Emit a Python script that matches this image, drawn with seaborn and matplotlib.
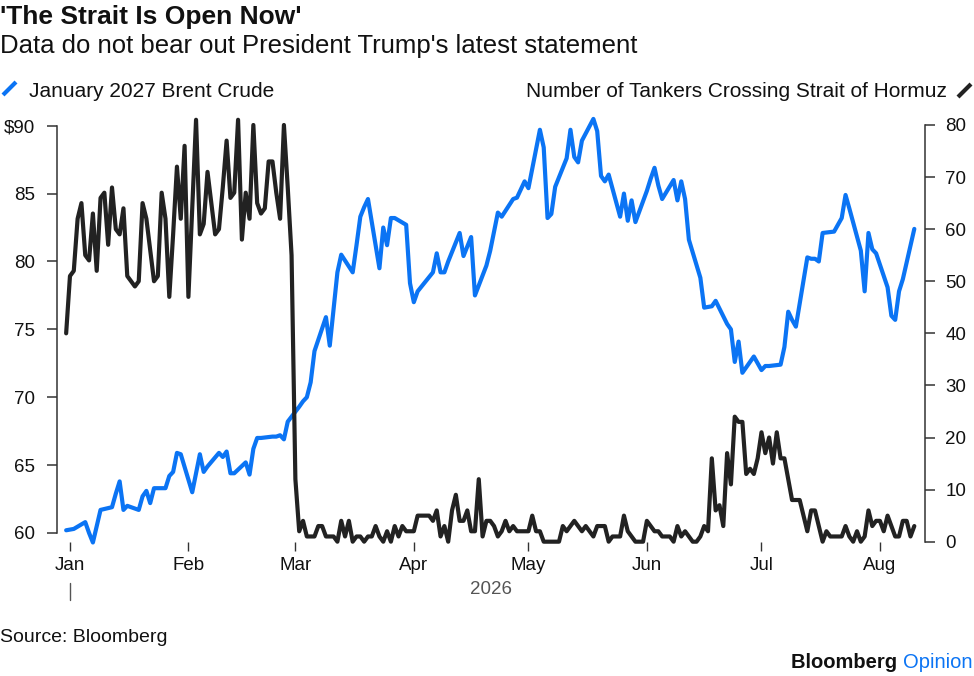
import matplotlib
matplotlib.use('Agg')
import matplotlib.pyplot as plt
import matplotlib.dates as mdates
import matplotlib.transforms as mtransforms
from matplotlib.lines import Line2D
import seaborn as sns
import pandas as pd

# January 2027 Brent crude, $/bbl, one value per trading day (grouped by month)
brent_dec = [60.2]
brent_jan = [60.3, 60.8, 60.0, 59.3, 60.5, 61.7, 61.9, 62.9, 63.8, 61.7, 62.0,
             61.7, 62.7, 63.1, 62.2, 63.3, 63.3, 64.2, 64.5, 65.9, 65.8]
brent_feb = [63.0, 64.4, 65.8, 64.5, 64.9, 65.9, 65.6, 66.0, 64.4, 64.4,
             65.2, 64.3, 66.2, 67.0, 67.0, 67.1, 67.1, 67.2, 66.9, 68.2]
brent_mar = [69.3, 69.7, 70.0, 71.1, 73.4, 75.9, 73.8, 76.5, 79.2, 80.5, 79.2,
             81.2, 83.3, 84.0, 84.6, 79.5, 82.5, 81.2, 83.2, 83.2, 82.7, 78.4]
brent_apr = [77.0, 77.8, 79.2, 80.6, 79.2, 79.2, 80.0, 82.1, 80.4, 81.1, 81.8,
             77.5, 79.7, 80.8, 82.2, 83.6, 83.3, 84.6, 84.7, 85.3, 85.9]
brent_may = [85.4, 89.7, 88.4, 83.2, 83.5, 85.5, 87.6, 89.7, 87.7, 87.3, 88.9,
             90.5, 89.6, 86.3, 85.9, 86.4, 83.3, 85.0, 83.0, 84.5, 82.9]
brent_jun = [85.2, 86.1, 86.9, 85.6, 84.6, 86.0, 84.5, 85.9, 84.6, 81.6, 78.8,
             76.6, 76.65, 76.7, 77.1, 75.4, 75.0, 72.6, 74.1, 71.8, 73.0, 72.5]
brent_jul = [72.0, 72.3, 72.3, 72.4, 73.7, 76.3, 75.7, 75.2, 80.3, 80.2, 80.2, 80.0,
             82.1, 82.2, 82.7, 83.2, 84.9, 83.9, 80.8, 77.8, 82.1, 80.9, 80.6]
brent_aug = [78.1, 76.0, 75.7, 77.8, 78.7, 82.4]

# number of tankers crossing the Strait of Hormuz, daily
tankers_dec = [40]
tankers_jan = [51, 52, 62, 65, 55, 54, 63, 52, 66, 67, 57, 68, 60, 59, 64, 51,
               50, 49, 50, 65, 62, 56, 50, 51, 67, 62, 47, 59, 72, 62, 76]
tankers_feb = [47, 64, 81, 59, 61, 71, 65, 59, 60, 68, 77, 66, 67, 81,
               58, 67, 62, 80, 65, 63, 64, 73, 73, 67, 62, 80, 68, 55]
tankers_mar = [12, 2, 4, 1, 1, 1, 3, 3, 1, 1, 1, 0, 4, 1, 4, 0,
               1, 1, 0, 1, 1, 3, 1, 0, 2, 0, 3, 1, 3, 2, 2]
tankers_apr = [2, 5, 5, 5, 5, 4, 6, 1, 3, 0, 6, 9, 4, 4, 6,
               2, 2, 12, 1, 4, 4, 3, 1, 2, 4, 2, 3, 2, 2, 2]
tankers_may = [2, 5, 2, 2, 0, 0, 0, 0, 0, 3, 2, 3, 4, 3, 2, 3,
               2, 1, 3, 3, 3, 0, 1, 1, 1, 5, 2, 1, 0, 0, 0]
tankers_jun = [4, 3, 2, 2, 1, 1, 1, 0, 3, 1, 2, 1, 0, 0, 1,
               3, 2, 16, 6, 7, 3, 17, 11, 24, 23, 23, 13, 14, 13, 16]
tankers_jul = [21, 17, 20, 15, 21, 16, 16, 12, 8, 8, 8, 5, 2, 6, 6, 3,
               0, 2, 1, 1, 1, 1, 3, 1, 0, 2, 0, 1, 6, 3, 4]
tankers_aug = [4, 2, 5, 3, 1, 1, 4, 4, 1, 3]

left_ticks = [60, 65, 70, 75, 80, 85, 90]
left_labels = ['60', '65', '70', '75', '80', '85', '$90']
right_ticks = [0, 10, 20, 30, 40, 50, 60, 70, 80]

BLUE = '#0b74f4'
DARK = '#222222'

brent = pd.DataFrame({
    'date': pd.bdate_range('2025-12-31', '2026-08-10', freq='C',
                           holidays=['2026-01-01', '2026-04-03']),
    'price': brent_dec + brent_jan + brent_feb + brent_mar + brent_apr
             + brent_may + brent_jun + brent_jul + brent_aug,
})
tankers = pd.DataFrame({
    'date': pd.date_range('2025-12-31', '2026-08-10', freq='D'),
    'count': tankers_dec + tankers_jan + tankers_feb + tankers_mar + tankers_apr
             + tankers_may + tankers_jun + tankers_jul + tankers_aug,
})

sns.set_theme(style='white')
plt.rcParams['font.family'] = ['Liberation Sans', 'DejaVu Sans']

fig = plt.figure(figsize=(9.74, 6.76), dpi=100)
ax = fig.add_axes([0.0585, 0.1987, 0.8912, 0.6312])
ax2 = ax.twinx()

sns.lineplot(data=brent, x='date', y='price', ax=ax, color=BLUE, lw=3.0, clip_on=False)
sns.lineplot(data=tankers, x='date', y='count', ax=ax2, color=DARK, lw=3.0, clip_on=False)

jan1 = mdates.date2num(pd.Timestamp('2026-01-01'))
ax.set_xlim(jan1 - 3.4, jan1 + 223.8)
ax.set_ylim(59.36, 90.79)
ax2.set_ylim(0, 81.92)

for a in (ax, ax2):
    a.set_xlabel('')
    a.set_ylabel('')
    for s in a.spines.values():
        s.set_visible(False)
ax.spines['left'].set_visible(True)
ax.spines['left'].set_bounds(60, 90)
ax.spines['left'].set_color('#333333')
ax.spines['left'].set_linewidth(1.1)
ax2.spines['right'].set_visible(True)
ax2.spines['right'].set_bounds(0, 80)
ax2.spines['right'].set_color('#333333')
ax2.spines['right'].set_linewidth(1.1)

ax.set_yticks(left_ticks, labels=left_labels)
ax2.set_yticks(right_ticks)
ax.tick_params(axis='y', left=True, right=False, direction='out', length=7.5, width=1.1,
               pad=8.5, labelsize=13.5, color='#333333', labelcolor='#111111')
ax2.tick_params(axis='y', right=True, left=False, direction='out', length=7.5, width=1.1,
                pad=7, labelsize=13.5, color='#333333', labelcolor='#111111')

ax.xaxis.set_major_locator(mdates.MonthLocator())
ax.xaxis.set_major_formatter(mdates.DateFormatter('%b'))
ax.tick_params(axis='x', bottom=True, direction='out', length=6.5, width=1.0,
               pad=4.5, labelsize=13.5, color='#333333', labelcolor='#111111')

# year divider under Jan and year label
trans = mtransforms.blended_transform_factory(ax.transData, ax.transAxes)
ax.plot([jan1, jan1], [-0.097, -0.137], transform=trans, color='#555555', lw=1.0, clip_on=False)
ax.text(0.5, -0.113, '2026', transform=ax.transAxes, ha='center', va='center',
        fontsize=13.5, color='#555555')

# titles
fig.text(0.0, 0.9645, "'The Strait Is Open Now'", fontsize=19, fontweight='bold',
         ha='left', va='baseline', color='#111111')
fig.text(0.0, 0.9211, "Data do not bear out President Trump's latest statement",
         fontsize=18.5, ha='left', va='baseline', color='#111111')

# legend
fig.add_artist(Line2D([3 / 974, 16 / 974], [0.8595, 0.8787], transform=fig.transFigure,
                      color=BLUE, lw=3.0, solid_capstyle='butt'))
fig.text(29 / 974, 0.8565, 'January 2027 Brent Crude', fontsize=15, ha='left',
         va='baseline', color='#111111')
fig.add_artist(Line2D([958 / 974, 971 / 974], [0.8565, 0.8757], transform=fig.transFigure,
                      color=DARK, lw=3.0, solid_capstyle='butt'))
fig.text(947 / 974, 0.8565, 'Number of Tankers Crossing Strait of Hormuz', fontsize=15,
         ha='right', va='baseline', color='#111111')

# footer
fig.text(0.0, 0.0507, 'Source: Bloomberg', fontsize=14, ha='left', va='baseline',
         color='#111111')
op = fig.text(0.998, 0.0118, 'Opinion', fontsize=14.5, ha='right', va='baseline', color=BLUE)
ax.annotate('Bloomberg ', xy=(0, 0), xycoords=op, ha='right', va='bottom',
            fontsize=14.5, fontweight='bold', color='#111111', annotation_clip=False)

fig.savefig('out.png', dpi=100)
